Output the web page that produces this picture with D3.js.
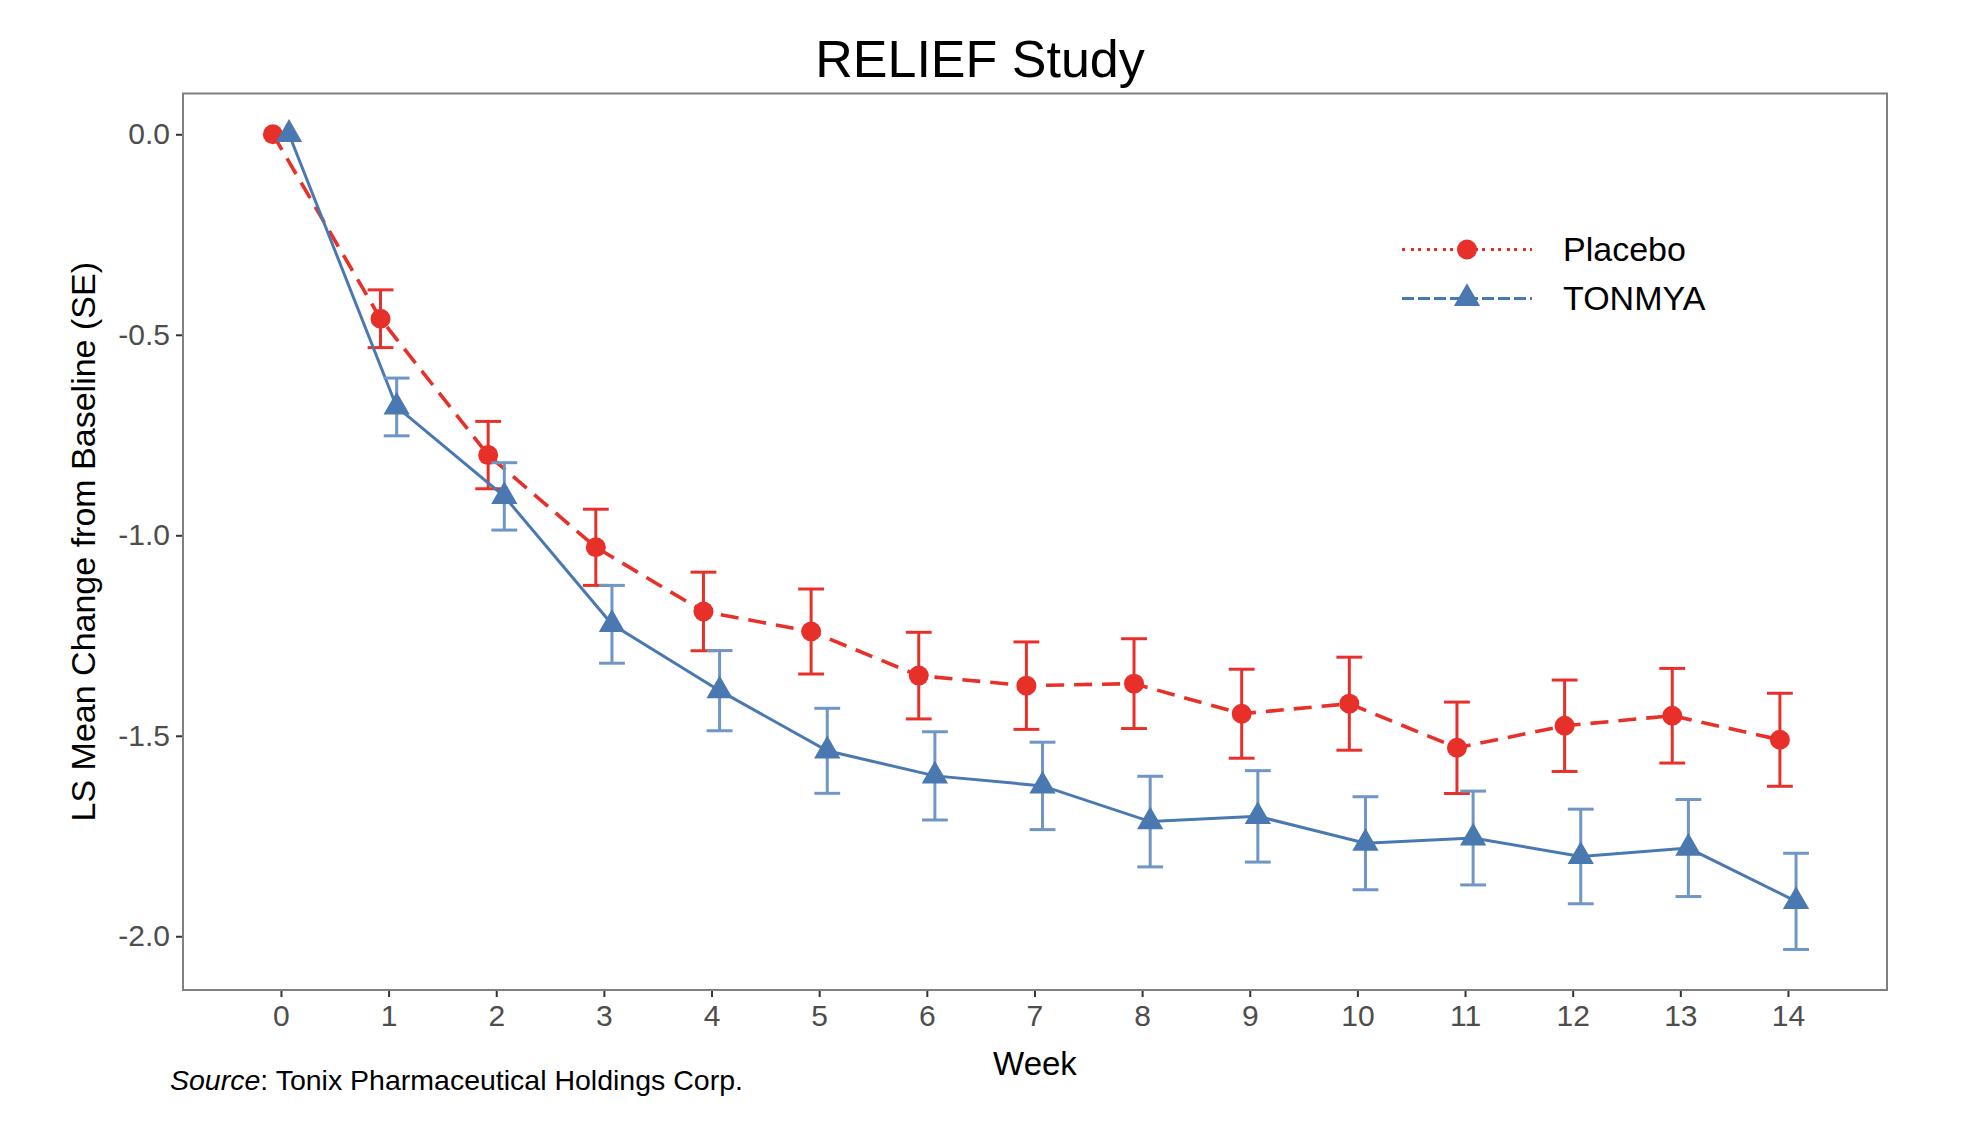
<!DOCTYPE html>
<html>
<head>
<meta charset="utf-8">
<script src="https://cdn.jsdelivr.net/npm/d3@7"></script>
<style>
    html, body { margin: 0; padding: 0; background: #fff; }
    svg { display: block; font-family: "Liberation Sans", Arial, Helvetica, sans-serif; }
</style>
</head>
<body>
<svg id="chart" width="1966" height="1140"></svg>
<script>
// === Data: RELIEF Study, LS mean change from baseline (SE) ===
const weeks = [0, 1, 2, 3, 4, 5, 6, 7, 8, 9, 10, 11, 12, 13, 14];
const placeboMean = [0, -0.46, -0.80, -1.03, -1.19, -1.24, -1.35, -1.375, -1.37, -1.445, -1.42, -1.53, -1.475, -1.45, -1.51];
const placeboSE = [null, 0.072, 0.084, 0.095, 0.098, 0.106, 0.108, 0.109, 0.112, 0.111, 0.116, 0.114, 0.114, 0.118, 0.116];
const tonmyaMean = [0, -0.68, -0.903, -1.222, -1.3875, -1.5375, -1.60, -1.625, -1.714, -1.701, -1.768, -1.755, -1.801, -1.78, -1.913];
const tonmyaSE = [null, 0.072, 0.084, 0.097, 0.100, 0.106, 0.110, 0.109, 0.113, 0.114, 0.116, 0.117, 0.118, 0.121, 0.120];
const yTicks = [0, -0.5, -1.0, -1.5, -2.0];

(function () {
    const svg = d3.select('#chart');
    const W = 1966, H = 1140;
    const panel = { left: 183, top: 93.5, right: 1887, bottom: 990 };

    const RED = '#e8302a';
    const BLUE = '#4a79b2';
    const BLUE_BAR = '#6f96c4';
    const GREY_TXT = '#4d4d4d';

    svg.append('rect').attr('width', W).attr('height', H).attr('fill', '#fff');

    // scales
    const x = d3.scaleLinear().domain([-0.91, 14.92]).range([panel.left, panel.right]);
    const y = d3.scaleLinear().domain([-2.134, 0.1017]).range([panel.bottom, panel.top]);
    const dodge = 0.075;
    const capHalf = 0.12;

    const series = [
        { name: 'Placebo', mean: placeboMean, se: placeboSE, off: -dodge, color: RED, barColor: RED, dash: '18,10', width: 3.6, shape: 'circle' },
        { name: 'TONMYA', mean: tonmyaMean, se: tonmyaSE, off: dodge, color: BLUE, barColor: BLUE_BAR, dash: null, width: 3, shape: 'triangle' },
    ];

    // Title (centred on the page, not the panel)
    svg.append('text')
        .attr('x', W / 2 - 3)
        .attr('y', 77)
        .attr('text-anchor', 'middle')
        .attr('font-size', 52)
        .attr('fill', '#000')
        .text('RELIEF Study');

    // Axes
    const xAxis = d3.axisBottom(x).tickValues(weeks).tickFormat(d3.format('d')).tickSize(7).tickPadding(8);
    const gx = svg.append('g').attr('transform', `translate(0,${panel.bottom})`).call(xAxis);
    gx.select('.domain').remove();
    gx.selectAll('line').attr('stroke', '#333').attr('stroke-width', 2);
    gx.selectAll('text').attr('font-size', 30).attr('fill', GREY_TXT).attr('font-family', null);

    const yAxis = d3.axisLeft(y).tickValues(yTicks).tickFormat(d3.format('.1f')).tickSize(7).tickPadding(6);
    const gy = svg.append('g').attr('transform', `translate(${panel.left},0)`).call(yAxis);
    gy.select('.domain').remove();
    gy.selectAll('line').attr('stroke', '#333').attr('stroke-width', 2);
    gy.selectAll('text').attr('font-size', 30).attr('fill', GREY_TXT).attr('font-family', null)
        .text(d => d3.format('.1f')(d).replace('−', '-'));

    // Panel border
    svg.append('rect')
        .attr('x', panel.left).attr('y', panel.top)
        .attr('width', panel.right - panel.left).attr('height', panel.bottom - panel.top)
        .attr('fill', 'none').attr('stroke', '#808080').attr('stroke-width', 2);

    // Axis titles
    svg.append('text')
        .attr('x', (panel.left + panel.right) / 2)
        .attr('y', 1075)
        .attr('text-anchor', 'middle')
        .attr('font-size', 33)
        .text('Week');

    svg.append('text')
        .attr('transform', `translate(83,${(panel.top + panel.bottom) / 2}) rotate(-90)`)
        .attr('dy', '0.35em')
        .attr('text-anchor', 'middle')
        .attr('font-size', 34)
        .text('LS Mean Change from Baseline (SE)');

    // Source note
    const src = svg.append('text')
        .attr('x', 170).attr('y', 1090)
        .attr('font-size', 28.5);
    src.append('tspan').attr('font-style', 'italic').text('Source');
    src.append('tspan').text(': Tonix Pharmaceutical Holdings Corp.');

    const plot = svg.append('g');
    const triangle = d3.symbol().type(d3.symbolTriangle).size(300);

    series.forEach(s => {
        const pts = weeks.map((w, i) => ({ w: w, m: s.mean[i], se: s.se[i] }));

        // line
        plot.append('path')
            .datum(pts)
            .attr('fill', 'none')
            .attr('stroke', s.color)
            .attr('stroke-width', s.width)
            .attr('stroke-dasharray', s.dash)
            .attr('d', d3.line().x(d => x(d.w + s.off)).y(d => y(d.m)));

        // error bars
        const bars = plot.append('g')
            .attr('stroke', s.barColor)
            .attr('stroke-width', 3)
            .selectAll('g')
            .data(pts.filter(d => d.se != null))
            .join('g');
        bars.append('line')
            .attr('x1', d => x(d.w + s.off)).attr('x2', d => x(d.w + s.off))
            .attr('y1', d => y(d.m + d.se)).attr('y2', d => y(d.m - d.se));
        bars.append('line')
            .attr('x1', d => x(d.w + s.off - capHalf)).attr('x2', d => x(d.w + s.off + capHalf))
            .attr('y1', d => y(d.m + d.se)).attr('y2', d => y(d.m + d.se));
        bars.append('line')
            .attr('x1', d => x(d.w + s.off - capHalf)).attr('x2', d => x(d.w + s.off + capHalf))
            .attr('y1', d => y(d.m - d.se)).attr('y2', d => y(d.m - d.se));

        // markers
        if (s.shape === 'circle') {
            plot.append('g').selectAll('circle')
                .data(pts).join('circle')
                .attr('cx', d => x(d.w + s.off)).attr('cy', d => y(d.m))
                .attr('r', 10).attr('fill', s.color);
        } else {
            plot.append('g').selectAll('path')
                .data(pts).join('path')
                .attr('transform', d => `translate(${x(d.w + s.off)},${y(d.m)})`)
                .attr('d', triangle).attr('fill', s.color);
        }
    });

    // Legend
    const legend = svg.append('g');
    const legendItems = [
        { name: 'Placebo', y: 249.5, color: RED, dash: '3,6,3,4', shape: 'circle' },
        { name: 'TONMYA', y: 298.5, color: BLUE, dash: '12,4', shape: 'triangle' },
    ];
    legendItems.forEach(it => {
        legend.append('line')
            .attr('x1', 1402).attr('x2', 1532)
            .attr('y1', it.y).attr('y2', it.y)
            .attr('stroke', it.color).attr('stroke-width', 3)
            .attr('stroke-dasharray', it.dash);
        if (it.shape === 'circle') {
            legend.append('circle').attr('cx', 1467).attr('cy', it.y).attr('r', 10).attr('fill', it.color);
        } else {
            legend.append('path').attr('transform', `translate(1467,${it.y})`).attr('d', triangle).attr('fill', it.color);
        }
        legend.append('text')
            .attr('x', 1563).attr('y', it.y).attr('dy', '0.35em')
            .attr('font-size', 34)
            .text(it.name);
    });
})();
</script>
</body>
</html>
